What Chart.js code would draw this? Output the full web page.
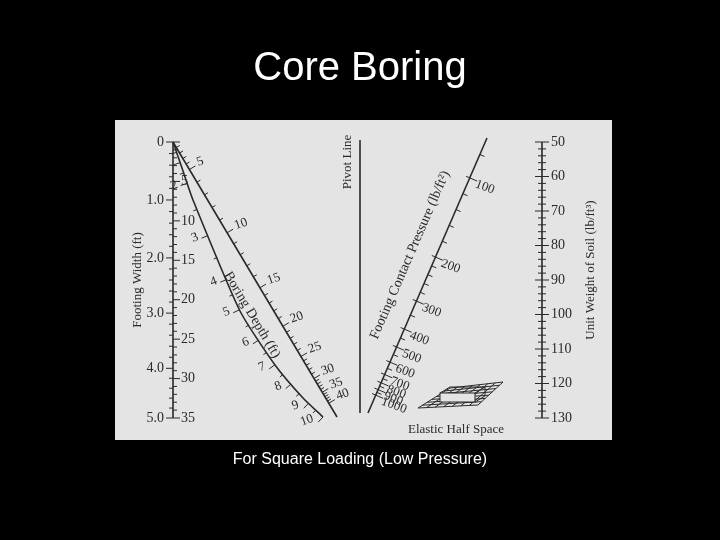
<!DOCTYPE html>
<html><head><meta charset="utf-8">
<script src="https://cdn.jsdelivr.net/npm/chart.js@4"></script>
<style>
html,body{margin:0;padding:0;background:#000;width:720px;height:540px;overflow:hidden}
#wrap{position:absolute;left:0;top:0;width:720px;height:540px}
.t{position:absolute;color:#fff;font-family:"Liberation Sans",Arial,sans-serif;width:720px;text-align:center}
</style></head><body>
<div id="wrap"><canvas id="c" width="720" height="540"></canvas></div>
<div class="t" style="top:44px;font-size:40px">Core Boring</div>
<div class="t" style="top:450px;font-size:16px">For Square Loading (Low Pressure)</div>
<script>
// ---- data (tick labels / values) ----
const widthLabels = [0,1.0,2.0,3.0,4.0,5.0];
const widthFrac   = [0,0.21,0.42,0.62,0.82,1.0];
const depthAxisLabels = [5,10,15,20,25,30,35];
const depthFtLabels = [5,10,15,20,25,30,35,40];
const depthFtFrac   = [0.10,0.33,0.53,0.67,0.78,0.86,0.91,0.95];
const depthMLabels = [2,3,4,5,6,7,8,9,10];
const depthMFrac   = [0.15,0.34,0.50,0.61,0.72,0.81,0.88,0.95,1.0];
const pressureLabels = [100,200,300,400,500,600,700,800,900,1000];
const pressureFrac   = [0.855,0.567,0.407,0.305,0.24,0.185,0.14,0.11,0.085,0.065];
const unitWeightLabels = [50,60,70,80,90,100,110,120,130];

// ---- layout geometry ----
const TOP=142, BOT=417;
const leftAxisX=173, rightAxisX=542;
const outerA={x:173,y:142}, outerB={x:337,y:417};
const innerPts=[[173,142],[182,168],[193,200],[240,311],[275,365],[303,398],[323,417]];
const pivotA={x:360,y:140}, pivotB={x:360,y:413};
const presA={x:368,y:413}, presB={x:487,y:138};

function interp(xs,ys,v){
  if(v<=xs[0]){return ys[0]+(ys[1]-ys[0])*(v-xs[0])/(xs[1]-xs[0]);}
  for(let i=1;i<xs.length;i++){ if(v<=xs[i]) return ys[i-1]+(ys[i]-ys[i-1])*(v-xs[i-1])/(xs[i]-xs[i-1]); }
  const n=xs.length; return ys[n-1];
}
function innerX(y){return interp(innerPts.map(p=>p[1]),innerPts.map(p=>p[0]),y);}
function outerPt(t){return {x:outerA.x+(outerB.x-outerA.x)*t,y:outerA.y+(outerB.y-outerA.y)*t};}
function innerPt(t){const y=TOP+(BOT-TOP)*t;return {x:innerX(y),y:y};}
function presPt(t){return {x:presA.x+(presB.x-presA.x)*t,y:presA.y+(presB.y-presA.y)*t};}
const ftFracX=[0].concat(depthFtLabels), ftFracY=[0].concat(depthFtFrac);
const mFracX=[0].concat(depthMLabels), mFracY=[0].concat(depthMFrac);

const lineDs=(pts,ten)=>({data:pts,showLine:true,borderColor:'#2a2a2a',borderWidth:1.6,pointRadius:0,fill:false,tension:ten||0});
const innerData=innerPts.map(p=>({x:p[0],y:p[1]}));

const TEXT='#2a2a2a', FONT='"Liberation Serif","DejaVu Serif",serif';

const nomo={id:'nomo',
beforeDraw(ch){const c=ch.ctx,X=ch.scales.x,Y=ch.scales.y;c.save();c.fillStyle='#000';c.fillRect(0,0,720,540);
  c.fillStyle='#e4e4e4';c.fillRect(X.getPixelForValue(115),Y.getPixelForValue(120),X.getPixelForValue(612)-X.getPixelForValue(115),Y.getPixelForValue(440)-Y.getPixelForValue(120));c.restore();},
afterDatasetsDraw(ch){
  const c=ch.ctx,X=ch.scales.x,Y=ch.scales.y;
  const px=v=>X.getPixelForValue(v), py=v=>Y.getPixelForValue(v);
  c.save();c.strokeStyle='#2a2a2a';c.fillStyle=TEXT;c.lineWidth=1;
  const seg=(x1,y1,x2,y2)=>{c.beginPath();c.moveTo(px(x1),py(y1));c.lineTo(px(x2),py(y2));c.stroke();};
  const txt=(s,x,y,al,rot,size)=>{c.save();c.font=(size||14)+'px '+FONT;c.translate(px(x),py(y));c.rotate(rot||0);c.textAlign=al||'left';c.textBaseline='middle';c.fillText(s,0,0);c.restore();};
  // left axis
  for(let d=0;d<=35;d++){const y=TOP+(418-TOP)*d/35;seg(leftAxisX,y,leftAxisX+(d%5==0?7:4),y);}
  depthAxisLabels.forEach(d=>txt(String(d),leftAxisX+8,TOP+(418-TOP)*d/35,'left'));
  for(let w=0;w<=5.0001;w+=0.2){const y=TOP+(418-TOP)*interp(widthLabels,widthFrac,w);const maj=Math.abs(w-Math.round(w))<1e-6;seg(leftAxisX-(maj?7:4),y,leftAxisX,y);}
  widthLabels.forEach((w,i)=>txt(w===0?'0':w.toFixed(1),leftAxisX-9,TOP+(418-TOP)*widthFrac[i],'right'));
  txt('Footing Width (ft)',138,280,'center',-Math.PI/2,13);
  // outer (ft) ticks on right side
  const ang=Math.atan2(outerB.y-outerA.y,outerB.x-outerA.x), nx=Math.sin(ang), ny=-Math.cos(ang);
  for(let d=1;d<=40;d++){const t=interp(ftFracX,ftFracY,d);const p=outerPt(t);const L=d%5==0?7:4;seg(p.x,p.y,p.x+nx*L,p.y+ny*L);}
  depthFtLabels.forEach((d,i)=>{const p=outerPt(depthFtFrac[i]);txt(String(d),p.x+nx*9,p.y+ny*9-2,'left',-0.35,13);});
  // inner (m) ticks on left side
  for(let m=0.5;m<=10;m+=0.5){const t=interp(mFracX,mFracY,m);const p=innerPt(t);const q=innerPt(Math.min(1,t+0.01)),r=innerPt(Math.max(0,t-0.01));
    const a=Math.atan2(q.y-r.y,q.x-r.x);const L=m%1==0?7:4;seg(p.x,p.y,p.x-Math.sin(a)*L,p.y+Math.cos(a)*L);}
  depthMLabels.forEach((m,i)=>{const p=innerPt(depthMFrac[i]);txt(String(m),p.x-10,p.y+1,'right',-0.35,13);});
  txt('Boring Depth (ft)',252,315,'center',ang,14);
  // pivot
  txt('Pivot Line',348,162,'center',-Math.PI/2,13);
  // pressure
  const pa=Math.atan2(presB.y-presA.y,presB.x-presA.x), pnx=Math.sin(pa), pny=-Math.cos(pa);
  const minor=[];for(let p=80;p<300;p+=20)minor.push(p);for(let p=300;p<=1000;p+=50)minor.push(p);
  const extX=[80].concat(pressureLabels), extY=[0.94].concat(pressureFrac);
  minor.forEach(p=>{const t=interp(extX,extY,p);const q=presPt(t);const maj=pressureLabels.includes(p);const L=maj?8:5;seg(q.x,q.y,q.x-pnx*L,q.y-pny*L);if(maj)seg(q.x,q.y,q.x+pnx*4,q.y+pny*4);});
  pressureLabels.forEach((p,i)=>{const q=presPt(pressureFrac[i]);txt(String(p),q.x+6,q.y+6,'left',0.35,13);});
  txt('Footing Contact Pressure (lb/ft²)',410,255,'center',pa,14);
  // right axis
  for(let w=50;w<=130;w+=2){const y=TOP+(418-TOP)*(w-50)/80;const L=w%10==0?7:4;seg(rightAxisX-L,y,rightAxisX+L,y);}
  unitWeightLabels.forEach(w=>txt(String(w),rightAxisX+9,TOP+(418-TOP)*(w-50)/80,'left'));
  txt('Unit Weight of Soil (lb/ft³)',591,270,'center',-Math.PI/2,13);
  // elastic half space sketch
  c.beginPath();c.moveTo(px(418),py(408));c.lineTo(px(450),py(388));c.lineTo(px(503),py(382));c.lineTo(px(478),py(405));c.closePath();c.stroke();
  for(let k=1;k<7;k++){const f=k/7;seg(418+32*f,408-20*f,478+25*f,405-23*f);seg(418+60*f,408-3*f,450+53*f,388-6*f);}
  c.fillStyle='#e4e4e4';c.fillRect(px(440),py(393),px(475)-px(440),py(402)-py(393));c.strokeRect(px(440),py(393),px(475)-px(440),py(402)-py(393));
  seg(440,393,450,387);seg(475,393,485,387);seg(450,387,485,387);seg(485,387,485,396);seg(475,402,485,396);
  c.fillStyle=TEXT;txt('Elastic Half Space',456,430,'center',0,13);
  c.restore();
}};

new Chart(document.getElementById('c'),{type:'scatter',
 data:{datasets:[
  lineDs([{x:leftAxisX,y:TOP},{x:leftAxisX,y:418}]),
  lineDs([outerA,outerB]),
  lineDs(innerData,0.2),
  lineDs([pivotA,pivotB]),
  lineDs([presA,presB]),
  lineDs([{x:rightAxisX,y:TOP},{x:rightAxisX,y:418}])
 ]},
 options:{responsive:false,animation:false,layout:{padding:0},
  plugins:{legend:{display:false},tooltip:{enabled:false}},
  scales:{x:{type:'linear',min:0,max:720,display:false},y:{type:'linear',min:0,max:540,reverse:true,display:false}}},
 plugins:[nomo]});
</script></body></html>
